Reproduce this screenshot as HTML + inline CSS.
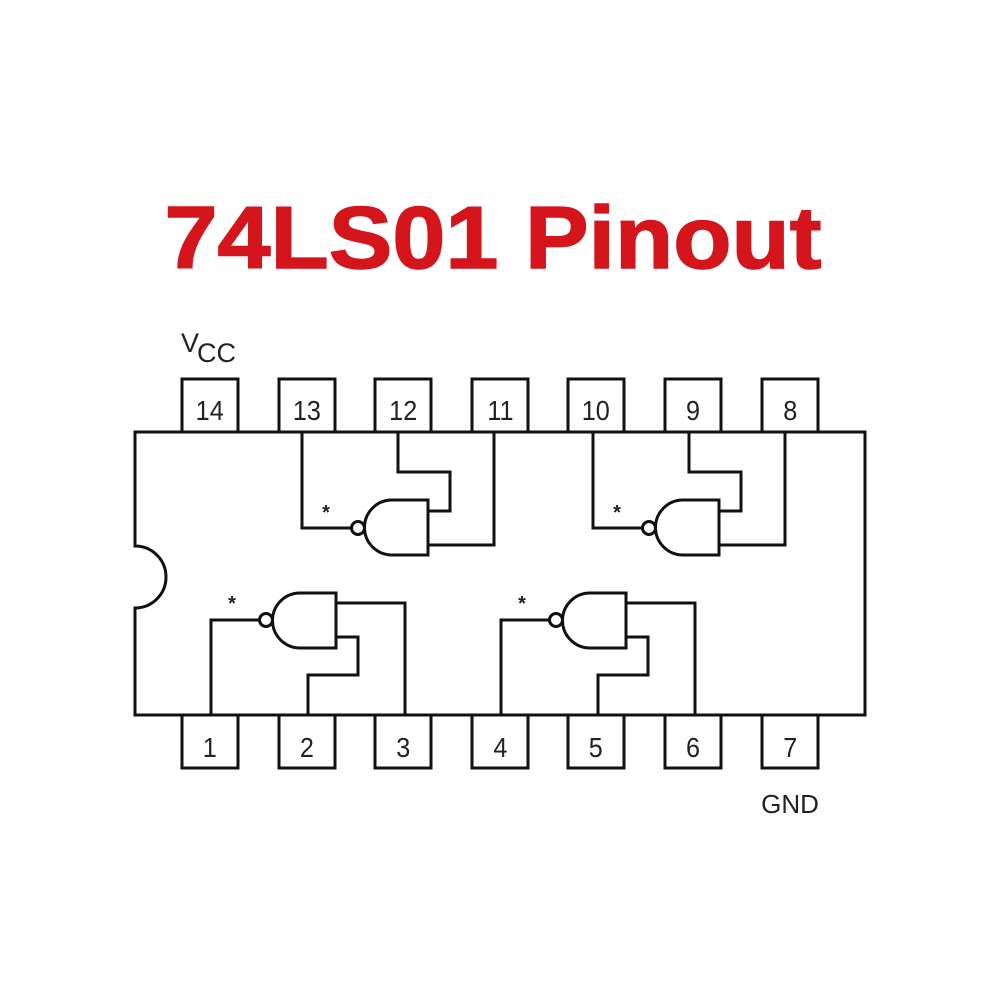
<!DOCTYPE html>
<html><head><style>html,body{margin:0;padding:0;background:#fff}svg{display:block}</style></head>
<body>
<svg width="1000" height="1000" viewBox="0 0 1000 1000" xmlns="http://www.w3.org/2000/svg">
<rect width="1000" height="1000" fill="#fff"/>
<text x="493" y="268" text-anchor="middle" font-family="Liberation Sans, sans-serif" font-weight="bold" font-size="88" fill="#d4151c" stroke="#d4151c" stroke-width="1.5" textLength="657" lengthAdjust="spacingAndGlyphs">74LS01 Pinout</text>
<g fill="none" stroke="#111" stroke-width="3">
<path d="M135,432 H865 V715 H135 V608 A31,31 0 0 0 135,546 Z"/>
<g id="pins">
<rect x="182" y="379" width="56" height="53"/><rect x="279" y="379" width="56" height="53"/><rect x="375" y="379" width="56" height="53"/><rect x="472" y="379" width="56" height="53"/><rect x="568" y="379" width="56" height="53"/><rect x="665" y="379" width="56" height="53"/><rect x="762" y="379" width="56" height="53"/>
<rect x="182" y="715" width="56" height="53"/><rect x="279" y="715" width="56" height="53"/><rect x="375" y="715" width="56" height="53"/><rect x="472" y="715" width="56" height="53"/><rect x="568" y="715" width="56" height="53"/><rect x="665" y="715" width="56" height="53"/><rect x="762" y="715" width="56" height="53"/>
</g>
<g id="gt">
<path d="M428,500 H392 A27.5,27.5 0 0 0 392,555 H428 Z"/>
<circle cx="358" cy="528" r="6.5"/>
<path d="M302,432 V528 H351.5"/>
<path d="M398,432 V472 H450 V511 H428"/>
<path d="M494,432 V545 H428"/>
</g>
<use href="#gt" transform="translate(291,0)"/>
<g id="gb">
<path d="M336,593 H300 A27.5,27.5 0 0 0 300,648 H336 Z"/>
<circle cx="266" cy="620" r="6.5"/>
<path d="M211,715 V620 H259.5"/>
<path d="M405,715 V603 H336"/>
<path d="M308,715 V675 H358 V637 H336"/>
</g>
<use href="#gb" transform="translate(290,0)"/>
</g>
<g font-family="Liberation Sans, sans-serif" font-size="28" fill="#222" text-anchor="middle">
<g transform="scale(0.9,1)">
<text x="233" y="420">14</text><text x="341" y="420">13</text><text x="448" y="420">12</text><text x="556" y="420">11</text><text x="662" y="420">10</text><text x="770" y="420">9</text><text x="878" y="420">8</text>
<text x="233" y="757">1</text><text x="341" y="757">2</text><text x="448" y="757">3</text><text x="556" y="757">4</text><text x="662" y="757">5</text><text x="770" y="757">6</text><text x="878" y="757">7</text>
</g>
<text x="790" y="813" font-size="26">GND</text>
<g font-weight="bold" font-size="20">
<text x="232" y="610">*</text><text x="326" y="519">*</text>
<text x="522" y="610">*</text><text x="617" y="519">*</text>
</g>
</g>
<text x="181" y="352" font-family="Liberation Sans, sans-serif" font-size="27" fill="#222">V</text>
<text x="197" y="362" font-family="Liberation Sans, sans-serif" font-size="27" fill="#222">CC</text>
</svg>
</body></html>
